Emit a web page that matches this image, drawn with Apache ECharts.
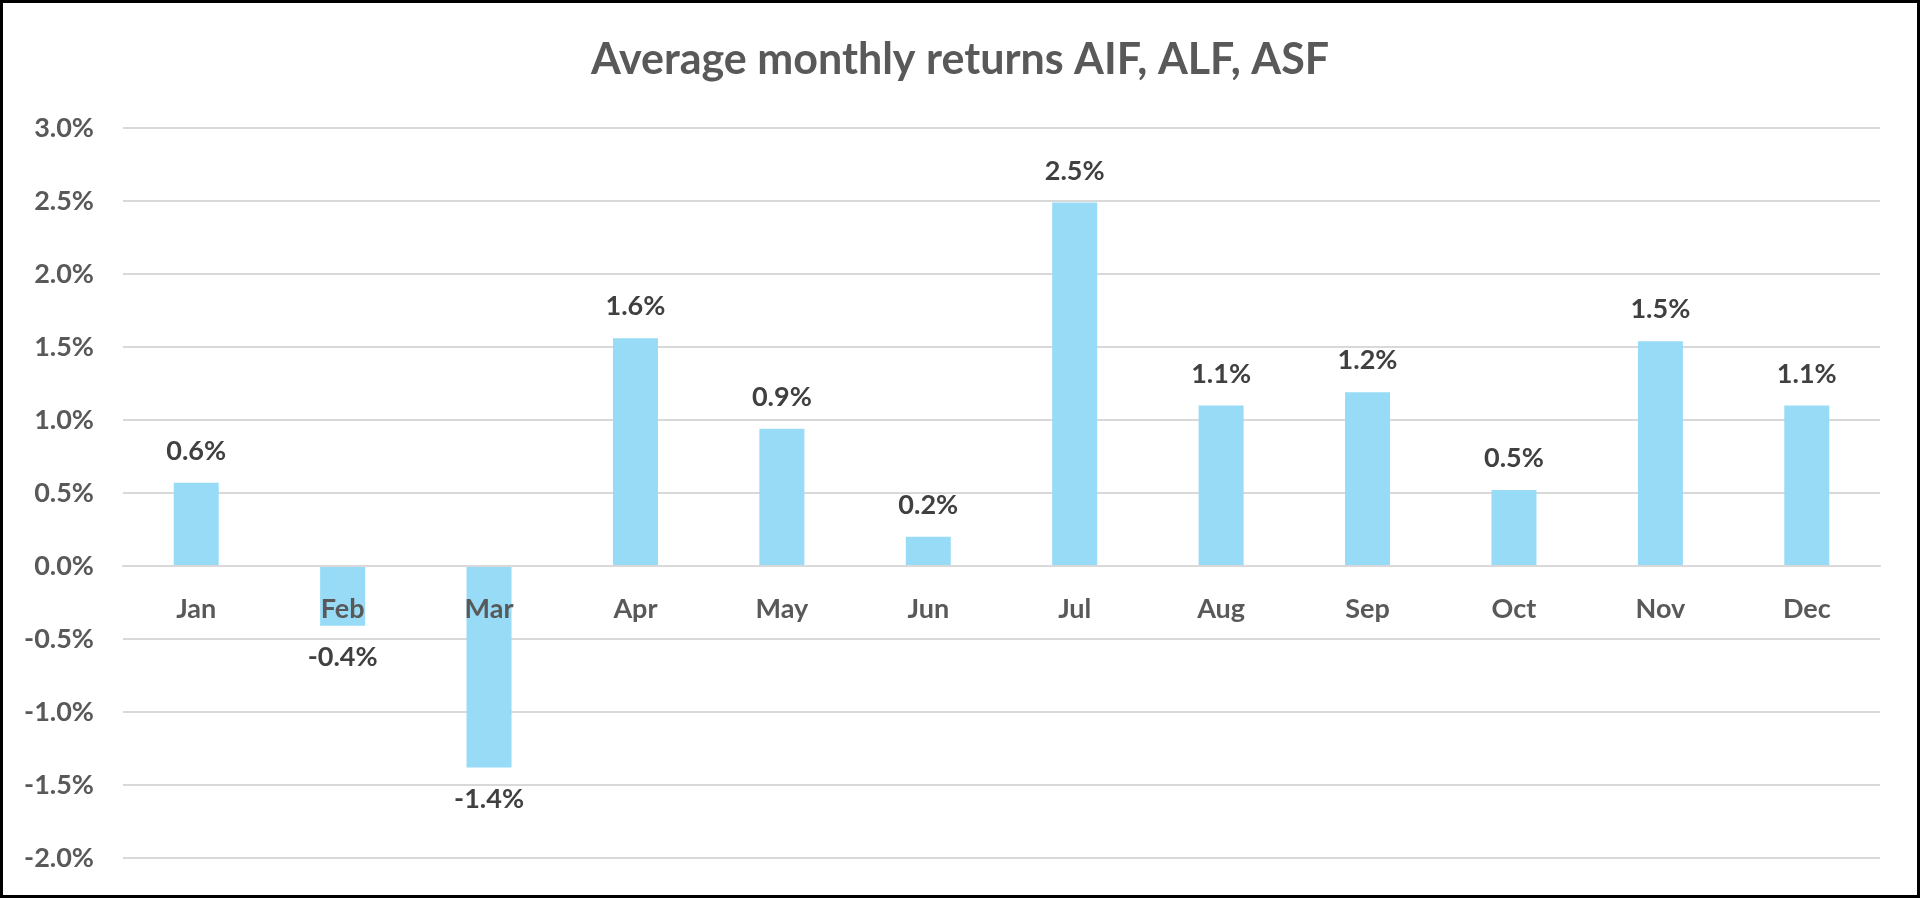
<!DOCTYPE html>
<html>
<head>
<meta charset="utf-8">
<title>Average monthly returns</title>
<script src="https://cdn.jsdelivr.net/npm/echarts@6/dist/echarts.min.js"></script>
<style>
  html, body { margin: 0; padding: 0; background: #fff; }
  #chart { width: 1920px; height: 898px; }
</style>
</head>
<body>
<div id="chart"></div>
<script>
// 数据
const months = ["Jan", "Feb", "Mar", "Apr", "May", "Jun", "Jul", "Aug", "Sep", "Oct", "Nov", "Dec"];
const avgReturns = [0.57, -0.41, -1.38, 1.56, 0.94, 0.2, 2.49, 1.1, 1.19, 0.52, 1.54, 1.1];
const yTicks = { min: -2, max: 3, step: 0.5 };

const chart = echarts.init(document.getElementById("chart"));

const fontFamily = "Lato, 'Open Sans', sans-serif";
const gridTop = 128;
const gridBottom = 40;
const gridHeight = 898 - gridTop - gridBottom;
// x轴标签放在0刻度线处 (和Excel一样)
const zeroOffset = -gridHeight * (0 - yTicks.min) / (yTicks.max - yTicks.min);

// 负值标签放在柱子下面
let barData = avgReturns.map(function(v) {
  return {
    value: v,
    label: { position: v < 0 ? "bottom" : "top" }
  };
});

let option = {
  backgroundColor: "#fff",
  animation: false,
  title: {
    text: "Average monthly returns AIF, ALF, ASF",
    left: "center",
    top: 34,
    textStyle: {
      fontFamily: fontFamily,
      fontSize: 43,
      fontWeight: "bold",
      color: "#595959"
    }
  },
  grid: {
    left: 123,
    right: 40,
    top: gridTop,
    bottom: gridBottom,
    outerBoundsMode: "none"
  },
  xAxis: {
    type: "category",
    data: months,
    z: 10,
    offset: zeroOffset,
    axisTick: { show: false },
    axisLine: {
      onZero: false,
      lineStyle: { color: "#d9d9d9", width: 2 }
    },
    axisLabel: {
      margin: 30,
      fontFamily: fontFamily,
      fontSize: 27,
      fontWeight: "bold",
      color: "#595959"
    }
  },
  yAxis: {
    type: "value",
    min: yTicks.min,
    max: yTicks.max,
    interval: yTicks.step,
    axisLine: { show: false },
    axisTick: { show: false },
    splitLine: { lineStyle: { color: "#d9d9d9", width: 2 } },
    axisLabel: {
      margin: 29,
      fontFamily: fontFamily,
      fontSize: 27,
      fontWeight: "bold",
      color: "#595959",
      formatter: function(v) {
        return v.toFixed(1) + "%";
      }
    }
  },
  series: [
    {
      type: "bar",
      data: barData,
      barWidth: 45,
      itemStyle: { color: "#97dbf7" },
      label: {
        show: true,
        distance: 18,
        fontFamily: fontFamily,
        fontSize: 27,
        fontWeight: "bold",
        color: "#404040",
        formatter: function(p) {
          return p.value.toFixed(1) + "%";
        }
      }
    }
  ],
  // 外框
  graphic: [
    {
      type: "rect",
      shape: { x: 1.5, y: 1.5, width: 1917, height: 895 },
      style: { fill: "none", stroke: "#000", lineWidth: 3 },
      silent: true
    }
  ]
};

chart.setOption(option);
</script>
</body>
</html>
